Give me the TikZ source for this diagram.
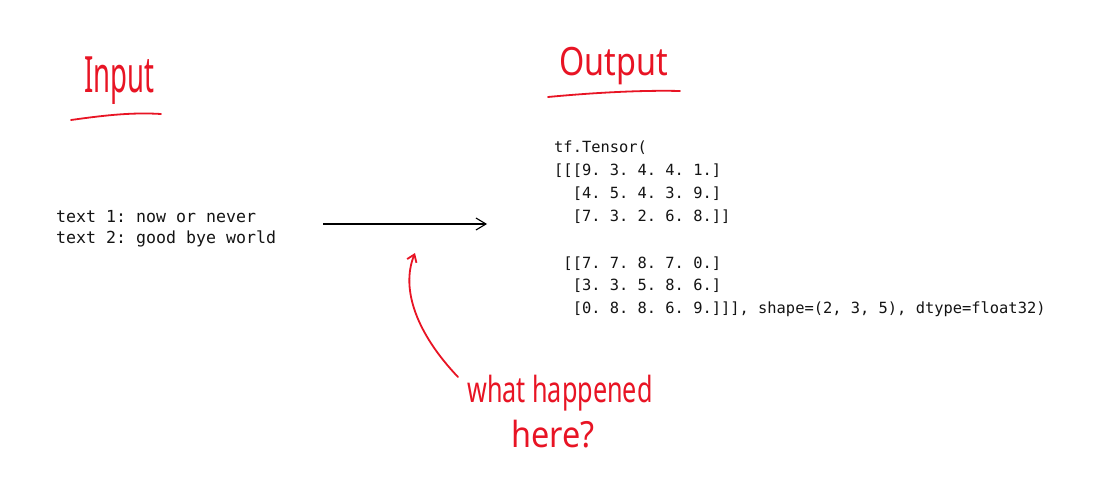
\documentclass[tikz,border=0pt]{standalone}
\usepackage{fontspec}
\setmonofont{DejaVu Sans Mono}
\newfontfamily\hand{Noto Sans}
\usetikzlibrary{arrows.meta}
\definecolor{handred}{RGB}{232,20,36}
\definecolor{codeblack}{RGB}{20,20,20}
\frenchspacing
\begin{document}
\begin{tikzpicture}[x=1pt,y=-1pt,
  inp/.style={anchor=base west,inner sep=0pt,text=codeblack,font=\ttfamily\fontsize{16.6}{20}\selectfont},
  code/.style={anchor=base west,inner sep=0pt,text=codeblack,font=\ttfamily\fontsize{15.4}{20}\selectfont},
  handtxt/.style={anchor=base west,inner sep=0pt,text=handred},
  handline/.style={draw=handred,line width=1.8pt,line cap=round}]
\useasboundingbox[fill=white] (0,0) rectangle (1105,479);

% headings
\node[handtxt,font=\hand\fontsize{50}{50}\selectfont] (hin) at (84,92) {\scalebox{0.55}[1]{Input}};
\node[handtxt,font=\hand\fontsize{39}{39}\selectfont] (hout) at (559,75) {\scalebox{0.83}[1]{Output}};
\draw[handline] (71,120) .. controls (100,116) and (130,112) .. (161,114);
\draw[handline] (548,97) .. controls (590,93) and (640,90) .. (680,91);

% input text
\node[inp] (in1) at (56,222) {text 1: now or never};
\node[inp] (in2) at (56,243) {text 2: good bye world};

% output text
\node[code] (o1) at (554,152) {tf.Tensor(};
\node[code] (o2) at (554,175) {[[[9. 3. 4. 4. 1.]};
\node[code] (o3) at (554,198) {\ \ [4. 5. 4. 3. 9.]};
\node[code] (o4) at (554,221) {\ \ [7. 3. 2. 6. 8.]]};
\node[code] (o5) at (554,268) {\ [[7. 7. 8. 7. 0.]};
\node[code] (o6) at (554,290) {\ \ [3. 3. 5. 8. 6.]};
\node[code] (o7) at (554,313) {\ \ [0. 8. 8. 6. 9.]]], shape=(2, 3, 5), dtype=float32)};

% main arrow
\coordinate (a1) at (323,224);
\coordinate (a2) at (487,224);
\draw[line width=1.1pt,-{Straight Barb[length=10pt,width=12pt]}] (a1) -- (a2);

% question
\node[handtxt,font=\hand\fontsize{36}{36}\selectfont] (q1) at (467,402) {\scalebox{0.7}[1]{what happened}};
\node[handtxt,font=\hand\fontsize{36}{36}\selectfont] (q2) at (511,447) {\scalebox{0.9}[1]{here?}};
\coordinate (c1) at (458,377);
\coordinate (c2) at (415,253);
\draw[handline,-{Straight Barb[length=7pt,width=10pt]}] (c1) .. controls (418,335) and (400,290) .. (c2);
\end{tikzpicture}
\end{document}
